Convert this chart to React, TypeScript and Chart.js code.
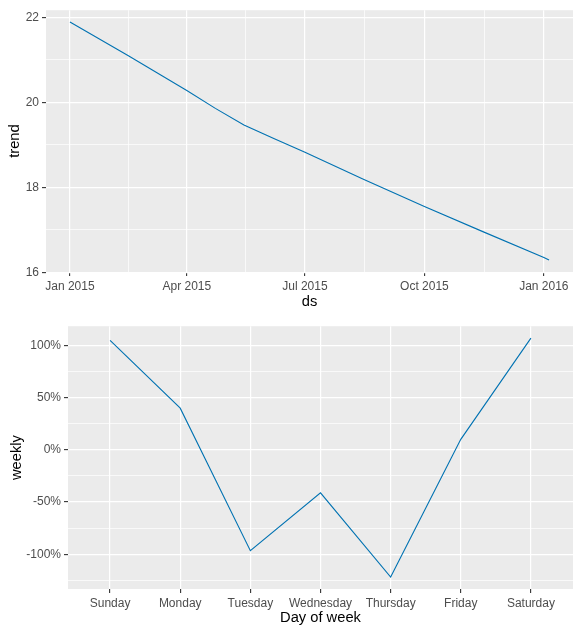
import React, { useEffect, useRef } from "react";
import { Chart, registerables } from "chart.js";
Chart.register(...registerables);

// ---- Trend panel data ----
const trendDates = [
  "2015-01-01", "2015-02-15", "2015-04-01", "2015-04-23", "2015-05-15", "2015-06-07",
  "2015-07-01", "2015-08-15", "2015-10-01", "2015-11-15", "2016-01-01", "2016-01-05",
];
const trendValues = [21.89, 21.10, 20.28, 19.86, 19.47, 19.15, 18.83, 18.19, 17.55, 16.96, 16.35, 16.29];
const trendTickDates = ["2015-01-01", "2015-04-01", "2015-07-01", "2015-10-01", "2016-01-01"];
const trendTickLabels = ["Jan 2015", "Apr 2015", "Jul 2015", "Oct 2015", "Jan 2016"];
const trendYTicks = [16, 18, 20, 22];
const trendYMinor = [17, 19, 21];

// ---- Weekly panel data ----
const weekDays = ["Sunday", "Monday", "Tuesday", "Wednesday", "Thursday", "Friday", "Saturday"];
const weeklyValues = [104.7, 39.9, -96.6, -41.2, -121.8, 10.0, 106.9];
const weeklyYTicks = [-100, -50, 0, 50, 100];
const weeklyYMinor = [-125, -75, -25, 25, 75];

const FONT = "'Liberation Sans', Arial, sans-serif";
const LINE = "#0072B2";
const PANEL = "#EBEBEB";

const dayNum = (s: string) => {
  const [y, m, d] = s.split("-").map(Number);
  return (Date.UTC(y, m - 1, d) - Date.UTC(2015, 0, 1)) / 86400000;
};

const bgPlugin = {
  id: "panelBg",
  beforeDraw(chart: any) {
    const { ctx, chartArea } = chart;
    ctx.save();
    ctx.fillStyle = PANEL;
    ctx.fillRect(chartArea.left, chartArea.top, chartArea.right - chartArea.left, chartArea.bottom - chartArea.top);
    ctx.restore();
  },
};

function gridOpts() {
  return {
    color: "#FFFFFF",
    lineWidth: (c: any) => (c.tick && c.tick.minor ? 0.7 : 1.2),
    tickColor: (c: any) => (c.tick && c.tick.minor ? "rgba(0,0,0,0)" : "#333333"),
    tickWidth: 1.1,
    tickLength: 4,
    drawTicks: true,
  };
}

function tickFont() {
  return { family: FONT, size: 12 };
}
function titleFont() {
  return { family: FONT, size: 14.7 };
}

function minMax(vals: number[]) {
  const lo = Math.min(...vals);
  const hi = Math.max(...vals);
  const r = hi - lo;
  return { min: lo - 0.05 * r, max: hi + 0.05 * r };
}

export default function App() {
  const topRef = useRef<HTMLCanvasElement>(null);
  const botRef = useRef<HTMLCanvasElement>(null);

  useEffect(() => {
    const xs = trendDates.map(dayNum);
    const xr = minMax(xs);
    const yr = minMax(trendValues);
    const majorX = trendTickDates.map(dayNum);
    const minorX: number[] = [];
    for (let i = 0; i < majorX.length - 1; i++) minorX.push((majorX[i] + majorX[i + 1]) / 2);

    const top = new Chart(topRef.current!, {
      type: "line",
      data: {
        datasets: [
          {
            data: xs.map((x, i) => ({ x, y: trendValues[i] })),
            borderColor: LINE,
            borderWidth: 1.1,
            pointRadius: 0,
            fill: false,
            tension: 0,
          },
        ],
      },
      options: {
        animation: false,
        responsive: false,
        maintainAspectRatio: false,
        layout: { padding: { top: 7, right: 8, left: 0, bottom: 0 } },
        plugins: { legend: { display: false }, tooltip: { enabled: false } },
        scales: {
          x: {
            type: "linear",
            min: xr.min,
            max: xr.max,
            afterBuildTicks: (s: any) => {
              s.ticks = [
                ...majorX.map((v) => ({ value: v })),
                ...minorX.map((v) => ({ value: v, minor: true })),
              ];
            },
            afterFit: (s: any) => {
              s.height = 44;
            },
            grid: gridOpts(),
            border: { display: false },
            ticks: {
              autoSkip: false,
              maxRotation: 0,
              padding: 3,
              color: "#4D4D4D",
              font: tickFont(),
              callback: (v: any) => {
                const i = majorX.indexOf(Number(v));
                return i >= 0 ? trendTickLabels[i] : "";
              },
            },
            title: { display: true, text: "ds", color: "#000000", font: titleFont(), padding: { top: 0, bottom: 5 } },
          },
          y: {
            type: "linear",
            min: yr.min,
            max: yr.max,
            afterBuildTicks: (s: any) => {
              s.ticks = [
                ...trendYTicks.map((v) => ({ value: v })),
                ...trendYMinor.map((v) => ({ value: v, minor: true })),
              ];
            },
            afterFit: (s: any) => {
              s.width = 46;
            },
            grid: gridOpts(),
            border: { display: false },
            ticks: {
              autoSkip: false,
              padding: 3,
              color: "#4D4D4D",
              font: tickFont(),
              callback: (v: any) => (trendYTicks.includes(Number(v)) ? String(v) : ""),
            },
            title: { display: true, text: "trend", color: "#000000", font: titleFont(), padding: { top: 6, bottom: 0 } },
          },
        },
      } as any,
      plugins: [bgPlugin],
    });

    const wr = minMax(weeklyValues);
    const bot = new Chart(botRef.current!, {
      type: "line",
      data: {
        datasets: [
          {
            data: weeklyValues.map((y, i) => ({ x: i, y })),
            borderColor: LINE,
            borderWidth: 1.1,
            pointRadius: 0,
            fill: false,
            tension: 0,
          },
        ],
      },
      options: {
        animation: false,
        responsive: false,
        maintainAspectRatio: false,
        layout: { padding: { top: 8, right: 8, left: 0, bottom: 0 } },
        plugins: { legend: { display: false }, tooltip: { enabled: false } },
        scales: {
          x: {
            type: "linear",
            min: -0.6,
            max: weekDays.length - 1 + 0.6,
            afterBuildTicks: (s: any) => {
              s.ticks = weekDays.map((_, i) => ({ value: i }));
            },
            afterFit: (s: any) => {
              s.height = 45;
            },
            grid: gridOpts(),
            border: { display: false },
            ticks: {
              autoSkip: false,
              maxRotation: 0,
              padding: 3,
              color: "#4D4D4D",
              font: tickFont(),
              callback: (v: any) => weekDays[Number(v)] ?? "",
            },
            title: { display: true, text: "Day of week", color: "#000000", font: titleFont(), padding: { top: 0, bottom: 7 } },
          },
          y: {
            type: "linear",
            min: wr.min,
            max: wr.max,
            afterBuildTicks: (s: any) => {
              s.ticks = [
                ...weeklyYTicks.map((v) => ({ value: v })),
                ...weeklyYMinor.map((v) => ({ value: v, minor: true })),
              ];
            },
            afterFit: (s: any) => {
              s.width = 68;
            },
            grid: gridOpts(),
            border: { display: false },
            ticks: {
              autoSkip: false,
              padding: 3,
              color: "#4D4D4D",
              font: tickFont(),
              callback: (v: any) => (weeklyYTicks.includes(Number(v)) ? `${v}%` : ""),
            },
            title: { display: true, text: "weekly", color: "#000000", font: titleFont(), padding: { top: 8, bottom: 0 } },
          },
        },
      } as any,
      plugins: [bgPlugin],
    });

    return () => {
      top.destroy();
      bot.destroy();
    };
  }, []);

  return (
    <div style={{ position: "absolute", left: 0, top: 0, width: 581, height: 634, background: "#FFFFFF" }}>
      <canvas ref={topRef} width={581} height={316} style={{ position: "absolute", left: 0, top: 0, width: 581, height: 316 }} />
      <canvas ref={botRef} width={581} height={318} style={{ position: "absolute", left: 0, top: 316, width: 581, height: 318 }} />
    </div>
  );
}
